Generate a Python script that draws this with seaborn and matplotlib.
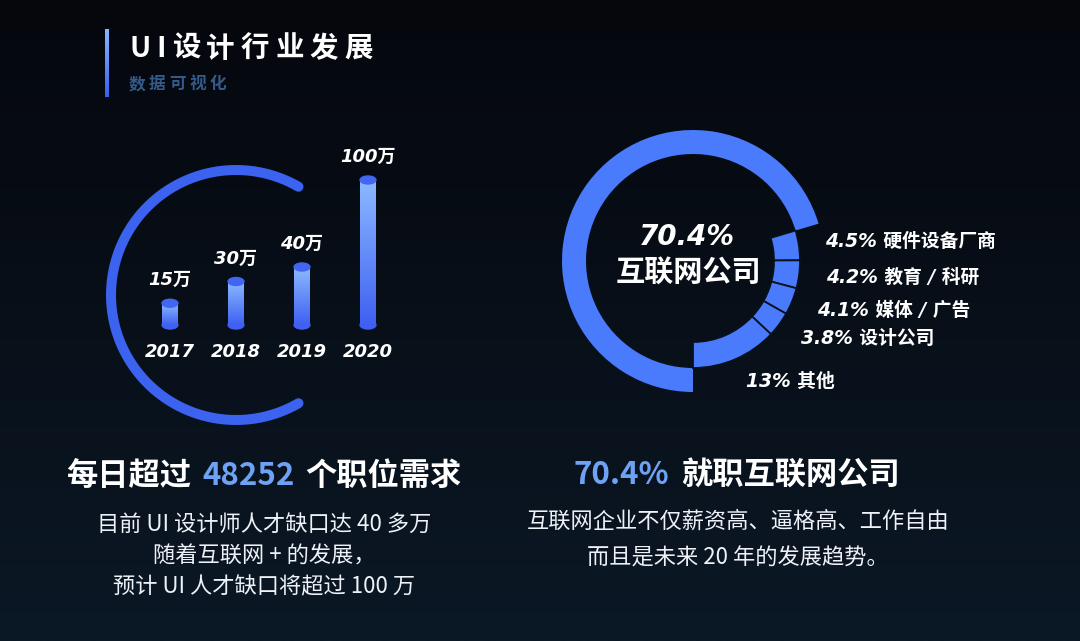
import numpy as np
import pandas as pd
import matplotlib
import matplotlib.pyplot as plt
import seaborn as sns
from matplotlib.patches import Ellipse
from matplotlib.colors import LinearSegmentedColormap

# 数据
years = ["2017", "2018", "2019", "2020"]
demand = [15, 30, 40, 100]          # 万
demand_labels = ["15万", "30万", "40万", "100万"]

sectors = ["互联网公司", "硬件设备厂商", "教育 / 科研", "媒体 / 广告", "设计公司", "其他"]
shares = [70.4, 4.5, 4.2, 4.1, 3.8, 13]

title = "UI设计行业发展"
subtitle = "数据可视化"
left_head = ["每日超过", "48252", "个职位需求"]
left_body = ["目前 UI 设计师人才缺口达 40 多万", "随着互联网 + 的发展，", "预计 UI 人才缺口将超过 100 万"]
right_head = ["70.4%", "就职互联网公司"]
right_body = ["互联网企业不仅薪资高、逼格高、工作自由", "而且是未来 20 年的发展趋势。"]

# 样式
sns.set_theme(style="white")
plt.rcParams["font.family"] = ["Noto Sans CJK SC", "DejaVu Sans"]
plt.rcParams["axes.unicode_minus"] = False

W, H = 1080, 641
BLUE = "#4a7bfd"
ARC_BLUE = "#3b63f0"
LIGHT = "#6ea2f5"
STYL = dict(family=["DejaVu Sans", "Noto Sans CJK SC"], style="italic", weight="bold", color="white")

fig = plt.figure(figsize=(W / 100, H / 100), dpi=100)
ax = fig.add_axes([0, 0, 1, 1])
ax.set_xlim(0, W)
ax.set_ylim(H, 0)
ax.axis("off")

# 背景渐变
bg = LinearSegmentedColormap.from_list("bg", ["#05070d", "#0b1825"])
ax.imshow(np.linspace(0, 1, 256).reshape(-1, 1), extent=[0, W, H, 0], cmap=bg, aspect="auto", zorder=0)

renderer = fig.canvas.get_renderer()


def spaced(x, y, s, gap, **kw):
    for ch in s:
        t = ax.text(x, y, ch, ha="left", va="center", **kw)
        x += t.get_window_extent(renderer).width + gap


def runs(xc, y, parts, colors, gap, **kw):
    texts = [ax.text(0, y, p, ha="left", va="center", color=c, **kw) for p, c in zip(parts, colors)]
    widths = [t.get_window_extent(renderer).width for t in texts]
    x = xc - (sum(widths) + gap * (len(texts) - 1)) / 2
    for t, w in zip(texts, widths):
        t.set_x(x)
        x += w + gap


# 标题
bar_cmap = LinearSegmentedColormap.from_list("bar", ["#3f60f2", "#8cbaff"])
ax.imshow(np.linspace(0, 1, 64).reshape(-1, 1), extent=[105, 109, 97, 29], origin="upper",
          cmap=LinearSegmentedColormap.from_list("tb", ["#86b6ff", "#3b5ff0"]), aspect="auto", zorder=2)
spaced(129, 49, title, 6, fontsize=20.5, weight="bold", color="white")
spaced(129, 84, subtitle, 3.5, fontsize=12, weight="bold", color="#335a88")

# 左侧圆弧
t = np.radians(np.linspace(60, 300, 300))
ax.plot(236 + 125 * np.cos(t), 295 - 125 * np.sin(t), color=ARC_BLUE, lw=7.2,
        solid_capstyle="round", zorder=2)

# 柱状图（圆柱）
px_per_unit = 1.45
bax = fig.add_axes([137 / W, (H - 325) / H, 264 / W, 150 * px_per_unit / H])
df = pd.DataFrame({"year": years, "demand": demand})
sns.barplot(data=df, x="year", y="demand", ax=bax, width=0.24, color=BLUE)
bax.set_xlim(-0.5, 3.5)
bax.set_ylim(0, 150)
bax.patch.set_alpha(0)
ell_h = 8 / px_per_unit
for p, lbl in zip(bax.patches, demand_labels):
    x0, w, h = p.get_x(), p.get_width(), p.get_height()
    xc = x0 + w / 2
    im = bax.imshow(np.linspace(0, 1, 256).reshape(-1, 1), extent=[x0, x0 + w, 0, h],
                    origin="lower", cmap=bar_cmap, aspect="auto", zorder=2)
    im.set_clip_path(p)
    p.set_facecolor("none")
    p.set_edgecolor("none")
    bax.add_patch(Ellipse((xc, 0), w, ell_h, color="#3f60f2", zorder=1.5, clip_on=False))
    bax.add_patch(Ellipse((xc, h), w, ell_h, color="#4266f2", zorder=3, clip_on=False))
    bax.annotate(lbl, (xc, h), xytext=(0, 16.5), textcoords="offset points",
                 ha="center", va="center", fontsize=13, annotation_clip=False, **STYL)
bax.set_xlim(-0.5, 3.5)
bax.set_ylim(0, 150)
bax.set_xlabel("")
bax.set_ylabel("")
bax.set_yticks([])
bax.tick_params(axis="x", length=0, pad=13)
for lab in bax.get_xticklabels():
    lab.set(fontsize=13, fontstyle="italic", fontweight="bold", color="white", family="DejaVu Sans")
sns.despine(ax=bax, left=True, bottom=True)

# 环形图
R = 131
pax = fig.add_axes([(693 - R) / W, (H - 261 - R) / H, 2 * R / W, 2 * R / H])
outer, _ = pax.pie([shares[0], sum(shares[1:])], radius=1, colors=[BLUE, (0, 0, 0, 0)],
                   startangle=-90, counterclock=False,
                   wedgeprops=dict(width=24 / R, linewidth=0))
inner, _ = pax.pie(shares, radius=107 / R, colors=[(0, 0, 0, 0)] + [BLUE] * 5,
                   startangle=-90, counterclock=False,
                   wedgeprops=dict(width=26 / R, linewidth=1.3, edgecolor="#08111c"))
inner[0].set_visible(False)
pax.set_xlim(-1, 1)
pax.set_ylim(-1, 1)
pax.set_aspect("equal")
for wdg, v, name in zip(inner[1:], shares[1:], sectors[1:]):
    mid = np.radians((wdg.theta1 + wdg.theta2) / 2)
    pax.text(1.02 * np.cos(mid), 1.0 * np.sin(mid), f"{v:g}% {name}", ha="left", va="center",
             fontsize=13.5, clip_on=False, **STYL)

ax.text(687, 237, f"{shares[0]:g}%", ha="center", va="center", fontsize=20, **STYL)
ax.text(688, 272, sectors[0], ha="center", va="center", fontsize=21, weight="bold", color="white")

# 底部文字
runs(264, 476, left_head, ["white", LIGHT, "white"], 11, fontsize=22.5, weight="bold")
for i, line in enumerate(left_body):
    ax.text(264, 525 + 31 * i, line, ha="center", va="center", fontsize=16, color="#eef2f8")
runs(737, 475, right_head, [LIGHT, "white"], 12, fontsize=22.5, weight="bold")
for i, line in enumerate(right_body):
    ax.text(738, 521 + 37 * i, line, ha="center", va="center", fontsize=16, color="#eef2f8")

fig.savefig("out.png", dpi=100)
